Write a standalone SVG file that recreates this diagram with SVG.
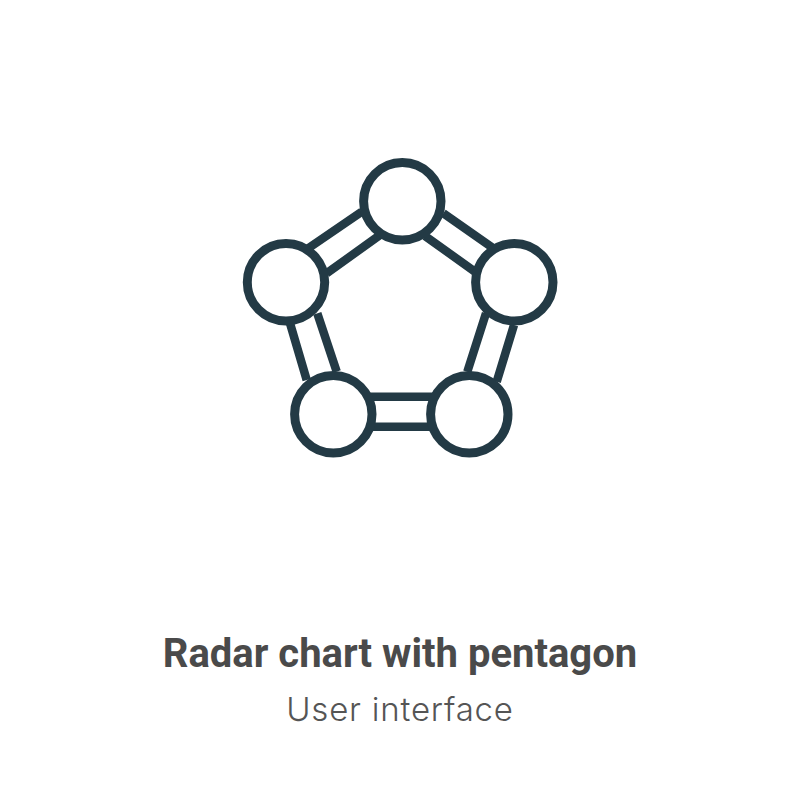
<svg xmlns="http://www.w3.org/2000/svg" width="800" height="800" viewBox="0 0 800 800">
<style>
.c{fill:#fff;stroke:#233a45;stroke-width:9}
.l{fill:none;stroke:#233a45;stroke-width:8.5}
.t{font-family:"Roboto","Liberation Sans",sans-serif;font-weight:700;font-size:40px;fill:#4a4a4a;text-anchor:middle}
.s{font-family:"Inter","Noto Sans",sans-serif;font-weight:300;font-size:33px;letter-spacing:0.8px;fill:#555;text-anchor:middle}
</style>
<rect width="800" height="800" fill="#fff"/>
<g id="connectors">
<path class="l" d="M308.3 248.3L361.7 211.7M326.7 273.3L380 235"/>
<path class="l" d="M443.3 213.3L493.3 248.3M425 236L475 271.7"/>
<path class="l" d="M290 323.3L306.7 380M317.3 313.3L336.7 371.7"/>
<path class="l" d="M486 313.3L467.3 371.7M514 325L496.7 381.7"/>
<path class="l" d="M370 396.7H433M370 426.7H433"/>
</g>
<g id="node-top"><circle class="c" cx="402.3" cy="201.3" r="38.7"/></g>
<g id="node-left"><circle class="c" cx="286" cy="282.3" r="38.7"/></g>
<g id="node-right"><circle class="c" cx="514.3" cy="282.3" r="38.7"/></g>
<g id="node-bottom-left"><circle class="c" cx="333.3" cy="414.3" r="38.7"/></g>
<g id="node-bottom-right"><circle class="c" cx="469.3" cy="414.3" r="38.7"/></g>
<text class="t" x="400" y="667">Radar chart with pentagon</text>
<text class="s" x="400" y="721">User interface</text>
</svg>
